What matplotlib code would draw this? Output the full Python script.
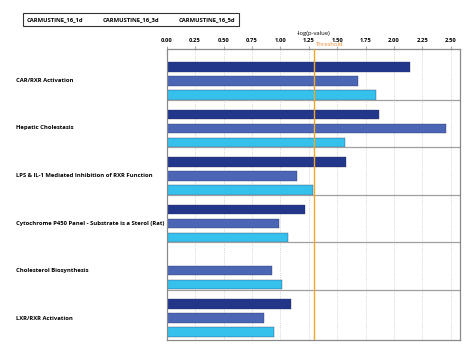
import numpy as np
import matplotlib.pyplot as plt
from matplotlib.lines import Line2D

plt.rcParams['font.family'] = ['Open Sans', 'DejaVu Sans']
plt.rcParams['font.weight'] = 'bold'

pathways = ['CAR/RXR Activation',
            'Hepatic Cholestasis',
            'LPS & IL-1 Mediated Inhibition of RXR Function',
            'Cytochrome P450 Panel - Substrate is a Sterol (Rat)',
            'Cholesterol Biosynthesis',
            'LXR/RXR Activation']
series = ['CARMUSTINE_16_1d', 'CARMUSTINE_16_3d', 'CARMUSTINE_16_5d']
vals_1d = [2.14, 1.87, 1.58, 1.22, np.nan, 1.09]
vals_3d = [1.68, 2.46, 1.15, 0.99, 0.93, 0.86]
vals_5d = [1.84, 1.57, 1.29, 1.07, 1.01, 0.94]
threshold = 1.30
xticks = [0.0, 0.25, 0.5, 0.75, 1.0, 1.25, 1.5, 1.75, 2.0, 2.25, 2.5]
colors = ['#22368a', '#4a66b5', '#36c0ec']

W, H = 474, 353
fs = 4.25
fig = plt.figure(figsize=(W / 100, H / 100), dpi=100)
ax = fig.add_axes([166.7 / W, 1 - 340 / H, (460 - 166.7) / W, (340 - 49) / H])

g = np.arange(len(pathways))
offsets = [0.305, 0.6, 0.895]
for vals, off, c in zip([vals_1d, vals_3d, vals_5d], offsets, colors):
    ax.barh(g + off, np.nan_to_num(vals), height=0.2, color=c,
            edgecolor='#2a3060', linewidth=0.25)

ax.set_xlim(0, 2.58)
ax.set_ylim(6.06, -0.075)
for x in xticks[1:]:
    ax.axvline(x, color='#c8c8c8', lw=0.6, ls=(0, (1, 1.5)), zorder=0)
for y in g[1:]:
    ax.axhline(y, color='#a0a0a0', lw=0.9, zorder=1)
ax.axvline(threshold, color='#f5a623', lw=1.0, zorder=3)
ax.text(threshold + 0.01, -0.12, 'Threshold', color='#f08a30', fontsize=fs,
        fontweight='normal', va='bottom', ha='left', transform=ax.transData,
        clip_on=False)

ax.xaxis.tick_top()
ax.xaxis.set_label_position('top')
ax.set_xticks(xticks)
ax.set_xticklabels(['%.2f' % t for t in xticks], fontsize=fs)
ax.tick_params(axis='x', length=2, width=0.5, pad=2.2, color='#808080')
ax.set_yticks([])
ax.set_xlabel('-log(p-value)', fontsize=fs, labelpad=2.5)
for s in ax.spines.values():
    s.set_color('#8a8a8a')
    s.set_linewidth(0.9)

for i, name in enumerate(pathways):
    fig.text(16 / W, 1 - (49 + 47.5 * (i + 0.6) + 3) / H, name,
             fontsize=fs, ha='left', va='center')

handles = [Line2D([], [], lw=0) for _ in series]
leg = fig.legend(handles, series, ncol=3, loc='center left',
                 bbox_to_anchor=(20 / W, 1 - 19.5 / H), fontsize=fs,
                 handlelength=0, handletextpad=0, columnspacing=3.3,
                 frameon=True, fancybox=False, borderpad=0.6)
leg.get_frame().set_edgecolor('black')
leg.get_frame().set_linewidth(0.8)

fig.savefig('out.png', dpi=100)
